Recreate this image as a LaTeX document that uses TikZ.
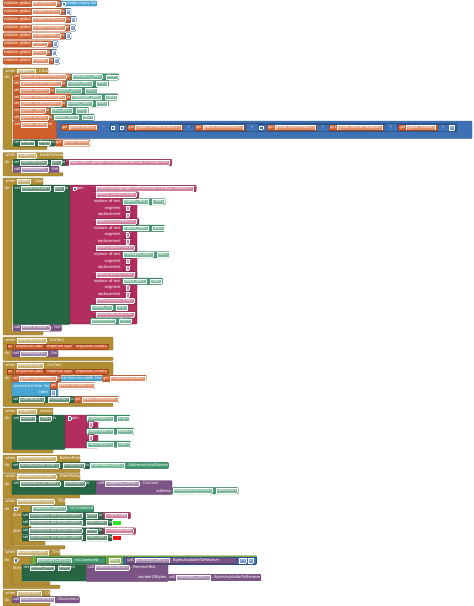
\documentclass[tikz,border=0pt]{standalone}
\usepackage{fontspec}
\setmainfont{Liberation Sans}
\newfontfamily\symfont{DejaVu Sans}
\usetikzlibrary{positioning}

\definecolor{evt}{RGB}{178,142,53}
\definecolor{var}{RGB}{208,95,45}
\definecolor{cset}{RGB}{38,102,67}
\definecolor{cget}{RGB}{67,153,112}
\definecolor{call}{RGB}{124,83,133}
\definecolor{txt}{RGB}{179,45,94}
\definecolor{math}{RGB}{63,113,181}
\definecolor{lst}{RGB}{73,166,212}
\definecolor{lgc}{RGB}{119,171,65}
\definecolor{okgreen}{RGB}{40,230,40}
\definecolor{badred}{RGB}{235,20,20}

\setlength{\fboxsep}{0.3pt}
\setlength{\fboxrule}{0.25pt}
\newcommand\dnarr{\,{\symfont\fontsize{2.6}{2.6}\selectfont ▾}}
\newcommand\fld[2]{\fcolorbox{white}{#1!70!white}{\strut\,#2\dnarr\,}}
\newcommand\inb[2]{\fcolorbox{#1!75!black}{#1}{\strut\,#2\,}}
\newcommand\tstr[1]{"\,\fcolorbox{white}{txt!60!white}{\strut\,#1\,}\,"}
\newcommand\prm[1]{\fcolorbox{var!75!black}{var}{\strut\,#1\,}}
\newcommand\gearic{\fcolorbox{white}{math}{\rule{0pt}{2.4pt}\rule{2.4pt}{0pt}}}
\newcommand\numb[1]{\fcolorbox{white}{math!70!white}{\strut\,#1\,}}
\newcommand\opsep[1]{\hspace{5pt}#1\hspace{5pt}}
% event block: [header height]{x}{top}{header right}{bottom}{footer right}
\newcommand\evtblk[6][7]{%
  \filldraw[cont=evt] (#2,#3) -- (#4,#3) -- (#4,#3+#1) -- (#2+9,#3+#1)
    -- (#2+9,#5-3.5) -- (#6,#5-3.5) -- (#6,#5) -- (#2,#5) -- cycle;}

\begin{document}
\begin{tikzpicture}[x=1pt, y=-1pt,
  blk/.style={fill=#1, draw=#1!75!black, rounded corners=0.8pt, inner sep=0.6pt,
    text=white, anchor=west, font=\fontsize{4.1}{3.6}\selectfont},
  lbl/.style={text=white, inner sep=0.4pt, anchor=west, font=\fontsize{4.1}{3.6}\selectfont},
  lbr/.style={lbl, anchor=east},
  cont/.style={fill=#1, draw=#1!75!black, rounded corners=0.8pt},
  swatch/.style={fill=#1, draw=white, line width=0.3pt, minimum width=9pt, minimum height=5pt, inner sep=0pt, anchor=west}]

  \fill[white] (0,0) rectangle (474,606);
  \useasboundingbox (0,0) rectangle (474,606);

  % initialize globals
  \node[blk=var] (g1) at (3,3.5) {initialize global \fld{var}{harvestList} to};
  \node[blk=lst, right=-0.5pt of g1] (e1) {\gearic\ create empty list};
  \foreach \y/\n [count=\i from 2] in {11.5/AnneeKarton, 19.5/AnneeKartonU2, 28/AnneePlastique,
      36/AnneePlateX, 44/Brutto, 52.5/Netto, 61/Saison}{
    \node[blk=var] (g\i) at (3,\y) {initialize global \fld{var}{\n} to};
    \node[blk=math, right=-0.5pt of g\i] (z\i) {\numb{0}};
  }

  % Appeler.Click
  \evtblk{3}{68}{48}{149.5}{47}
  \node[lbl] (h2) at (5,71.5) {when \fld{evt}{Appeler} . Click};
  \node[lbl] (d2) at (4,77) {do};
  \foreach \y/\v/\c [count=\i] in {77/AnneeKartonU2/KartonU2\_text, 83.7/AnneePlateX/PlateX\_text,
      90.4/Saison/Saison\_text, 97.1/AnneePlastique/Plastique\_text, 103.8/AnneeKarton/Karton\_text,
      110.5/Tara/Tara\_text, 117.2/Brutto/Brutto\_text}{
    \node[blk=var] (s\i) at (13,\y) {set \fld{var}{global \v} to};
    \node[blk=cget, right=-0.5pt of s\i] (t\i) {\fld{cget}{\c} . \fld{cget}{Text}};
  }
  \filldraw[cont=var] (13,121) rectangle (57,139);
  \node[lbl] (s8) at (14,124.6) {set \fld{var}{global Netto} to};
  \filldraw[cont=math] (57,121) rectangle (472,138.5);
  \node[lbl] (f1) at (60,127.5) {\inb{var}{get \fld{var}{global Brutto}}\opsep{−}\inb{math}{\gearic\hspace{4pt}\inb{math}{\gearic\hspace{4pt}\inb{var}{get \fld{var}{global AnneeKartonU2}}\opsep{+}\inb{var}{get \fld{var}{global AnneeKarton}}}\opsep{+}\inb{math}{\gearic\hspace{4pt}\inb{var}{get \fld{var}{global AnneePlateX}}\opsep{+}\inb{var}{get \fld{var}{global AnneePlastique}}}\opsep{+}\inb{math}{\inb{var}{get \fld{var}{global Saison}}\opsep{×}\numb{0}}}};
  \node[blk=cset] (o1) at (13,143) {set \fld{cset}{Netto} . \fld{cset}{Text} to};
  \node[blk=var, right=-0.5pt of o1] (o2) {get \fld{var}{global Netto}};

  % Screen1.BackPressed
  \evtblk{3}{152.5}{63}{176}{63}
  \node[lbl] (h3) at (5,156) {when \fld{evt}{Screen1} . BackPressed};
  \node[lbl] (d3) at (4,162.5) {do};
  \node[blk=cset] (u1) at (13,162.5) {set \fld{cset}{WebHarvest} . \fld{cset}{Url} to};
  \node[blk=txt, right=-0.5pt of u1] (u2) {\tstr{https://docs.google.com/spreadsheets/d/1YR/pub?csv}};
  \node[blk=call] (u3) at (13,169.3) {call \fld{call}{WebHarvest} . Get};

  % Save.Click
  \evtblk{3}{178}{43}{335}{43}
  \node[lbl] (h4) at (5,181.5) {when \fld{evt}{Save} . Click};
  \node[lbl] (d4) at (4,188.5) {do};
  \filldraw[cont=cset] (13,185) rectangle (70,324.5);
  \node[lbl] (j0) at (14,188.5) {set \fld{cset}{WebFormular} . \fld{cset}{Url} to};
  \filldraw[cont=txt] (70,185) rectangle (137,324);
  \node[lbl] (j1) at (72,188.5) {\gearic\ join};
  \node[blk=txt] (j2) at (93,188.5) {\tstr{https://docs.google.com/forms/d/1FAIpQL/viewform?}};
  \foreach \y/\s in {195/1560251415, 221.5/2071396622, 248/338207581, 274.5/441567210, 301/553017846, 314.4/664932018}
    \node[blk=txt] at (93,\y) {\tstr{\&entry.\s=}};
  \foreach \y/\c in {201.7/Saison\_text, 228.2/Karton\_text, 254.7/Plastique\_text, 281.2/Netto\_text}{
    \node[lbr] at (121,\y) {replace all text};
    \node[blk=cget] at (122,\y) {\fld{cget}{\c} . \fld{cget}{Text}};
    \node[lbr] at (121,\y+6.6) {segment};
    \node[blk=txt] at (123,\y+6.6) {\tstr{.}};
    \node[lbr] at (121,\y+13.2) {replacement};
    \node[blk=txt] at (123,\y+13.2) {\tstr{,}};
  }
  \node[blk=cget] (j3) at (90,307.8) {\fld{cget}{Datum\_1} . \fld{cget}{Text}};
  \node[blk=cget] (j4) at (90,321) {\fld{cget}{Brutto\_text} . \fld{cget}{Text}};
  \node[blk=call] (j5) at (13,328) {call \fld{call}{WebFormular} . Get};

  % WebFormular.GotText
  \evtblk[13]{3}{337}{113}{360.5}{113}
  \node[lbl] (h5) at (5,340.5) {when \fld{evt}{WebFormular} . GotText};
  \node[lbl] (p5) at (6,346.8) {\prm{url}\ \prm{responseCode}\ \prm{responseType}\ \prm{responseContent}};
  \node[lbl] (d5) at (4,353.5) {do};
  \node[blk=call] (k1) at (12,353.5) {call \fld{call}{WebHarvest} . Get};

  % WebHarvest.GotText
  \evtblk[13]{3}{362}{113}{406.5}{113}
  \node[lbl] (h6) at (5,365.5) {when \fld{evt}{WebHarvest} . GotText};
  \node[lbl] (p6) at (6,371.8) {\prm{url}\ \prm{responseCode}\ \prm{responseType}\ \prm{responseContent}};
  \node[lbl] (d6) at (4,378.5) {do};
  \node[blk=var] (r1) at (12,378.5) {set \fld{var}{global harvestList} to};
  \node[blk=lst, right=-0.5pt of r1] (r2) {list from csv table \ text};
  \node[blk=var, right=-0.5pt of r2] (r3) {get \fld{var}{responseContent}};
  \filldraw[cont=lst] (12,382.2) rectangle (58,396);
  \node[lbl] (r4) at (13,385.7) {remove list item \ list};
  \node[blk=var] (r5) at (50,385.7) {get \fld{var}{global harvestList}};
  \node[lbr] (r6) at (49,392.4) {index};
  \node[blk=math] (r7) at (50,392.4) {\numb{1}};
  \node[blk=cset] (r8) at (12,399.5) {set \fld{cset}{ListPicker1} . \fld{cset}{Elements} to};
  \node[blk=var, right=-0.5pt of r8] (r9) {get \fld{var}{global harvestList}};

  % Screen1.Initialize
  \evtblk{3}{408}{53}{453}{53}
  \node[lbl] (h7) at (5,411.5) {when \fld{evt}{Screen1} . Initialize};
  \node[lbl] (d7) at (4,418.3) {do};
  \filldraw[cont=cset] (12,415) rectangle (65,449.5);
  \node[lbl] (q0) at (13,418.3) {set \fld{cset}{Date1} . \fld{cset}{Text} to};
  \filldraw[cont=txt] (65,415) rectangle (98,448);
  \node[lbl] (q1) at (67,418.3) {\gearic\ join};
  \foreach \y/\p in {418.3/Day, 431.3/Month, 444.3/Year}
    \node[blk=cget] at (86,\y) {\fld{cget}{DatePicker1} . \fld{cget}{\p}};
  \foreach \y in {424.8, 437.8}
    \node[blk=txt] at (86,\y) {\tstr{/}};

  % BluetoothListPicker.BeforePicking
  \evtblk{3}{455}{80}{472.5}{80}
  \node[lbl] (h8) at (5,458.5) {when \fld{evt}{BluetoothListPicker} . BeforePicking};
  \node[lbl] (d8) at (4,465.5) {do};
  \node[blk=cset] (b1) at (12,465.5) {set \fld{cset}{BluetoothListPicker} . \fld{cset}{Elements} to};
  \node[blk=cget, right=-0.5pt of b1] (b2) {\fld{cget}{BluetoothClient1} . AddressesAndNames\hspace{16pt}};

  % BluetoothListPicker.AfterPicking
  \evtblk{3}{473.5}{80}{498}{80}
  \node[lbl] (h9) at (5,477) {when \fld{evt}{BluetoothListPicker} . AfterPicking};
  \node[lbl] (d9) at (4,484) {do};
  \filldraw[cont=cset] (12,480.5) rectangle (96,494.5);
  \node[lbl] (a1) at (13,484) {set \fld{cset}{BluetoothListPicker} . \fld{cset}{Selection} to};
  \filldraw[cont=call] (96,480.5) rectangle (172,494.5);
  \node[lbl] (a2) at (97,484) {call \fld{call}{BluetoothClient1} . Connect};
  \node[lbr] (a3) at (171.5,490.8) {address};
  \node[blk=cget] (a4) at (172,490.8) {\fld{cget}{BluetoothListPicker} . \fld{cget}{Selection}};

  % TemperatureClock.Timer
  \evtblk{3}{498.5}{65}{549}{65}
  \node[lbl] (h10) at (5,502) {when \fld{evt}{TemperatureClock} . Timer};
  \node[lbl] (d10) at (4,508.7) {do};
  \filldraw[cont=evt] (12,505.5) -- (31,505.5) -- (31,512) -- (22,512) -- (22,525.5) -- (31,525.5)
    -- (31,527.8) -- (22,527.8) -- (22,541.2) -- (45,541.2) -- (45,545) -- (12,545) -- cycle;
  \node[lbl] (i1) at (13,508.7) {\gearic\ if};
  \node[blk=cget] (i2) at (31,508.7) {\fld{cget}{BluetoothClient1} . IsConnected};
  \node[lbl] (i3) at (12.5,515.5) {then};
  \node[lbl] (i4) at (12.5,531) {else};
  \foreach \y/\w/\n in {515.5/Connected/c1, 531/Disconnected/c3}{
    \node[blk=cset] (\n) at (22,\y) {set \fld{cset}{BluetoothConnectionLabel} . \fld{cset}{Text} to};
    \node[blk=txt, right=-0.5pt of \n] {\tstr{\w}};
  }
  \foreach \y/\col/\n in {522.2/okgreen/c2, 537.7/badred/c4}{
    \node[blk=cset] (\n) at (22,\y) {set \fld{cset}{BluetoothConnectionLabel} . \fld{cset}{TextColor} to};
    \node[swatch=\col, right=-0.5pt of \n] {};
  }

  % BluetoothClock.Timer
  \evtblk{3}{549.5}{60}{588.5}{60}
  \node[lbl] (h11) at (5,553) {when \fld{evt}{BluetoothClock} . Timer};
  \node[lbl] (d11) at (4,560.2) {do};
  \filldraw[cont=evt] (12,556.5) -- (31,556.5) -- (31,564) -- (22,564) -- (22,581.5) -- (50,581.5)
    -- (50,585) -- (12,585) -- cycle;
  \node[lbl] (v1) at (13,560.2) {\gearic\ if};
  \node[blk=lgc] (v2) at (31,560.2) {\hspace{4pt}\inb{cget}{\fld{cget}{BluetoothClient1} . IsConnected\hspace{6pt}}\hspace{3pt}\fld{lgc}{and}\hspace{3pt}\inb{math}{\hspace{2pt}\inb{call}{call \fld{call}{BluetoothClient1} . BytesAvailableToReceive\hspace{16pt}}\hspace{3pt}\fld{math}{>}\hspace{2pt}\numb{0}\hspace{2pt}}};
  \node[lbl] (v3) at (12.5,568) {then};
  \filldraw[cont=cset] (22,564.5) rectangle (86,581);
  \node[lbl] (v4) at (23,568) {set \fld{cset}{Brutto\_text} . \fld{cset}{Text} to};
  \filldraw[cont=call] (86,564.5) rectangle (168,581.5);
  \node[lbl] (v5) at (87,568) {call \fld{call}{BluetoothClient1} . ReceiveText};
  \node[lbr] (v6) at (167,577.5) {numberOfBytes};
  \node[blk=call] (v7) at (168,577.5) {call \fld{call}{BluetoothClient1} . BytesAvailableToReceive\hspace{14pt}};

  % Disconnect.Click
  \evtblk[6.5]{3}{590}{50}{606}{50}
  \node[lbl] (h12) at (5,593.3) {when \fld{evt}{Disconnect} . Click};
  \node[lbl] (d12) at (4,599.8) {do};
  \node[blk=call] (x1) at (12,599.8) {call \fld{call}{BluetoothClient1} . Disconnect};
\end{tikzpicture}
\end{document}
